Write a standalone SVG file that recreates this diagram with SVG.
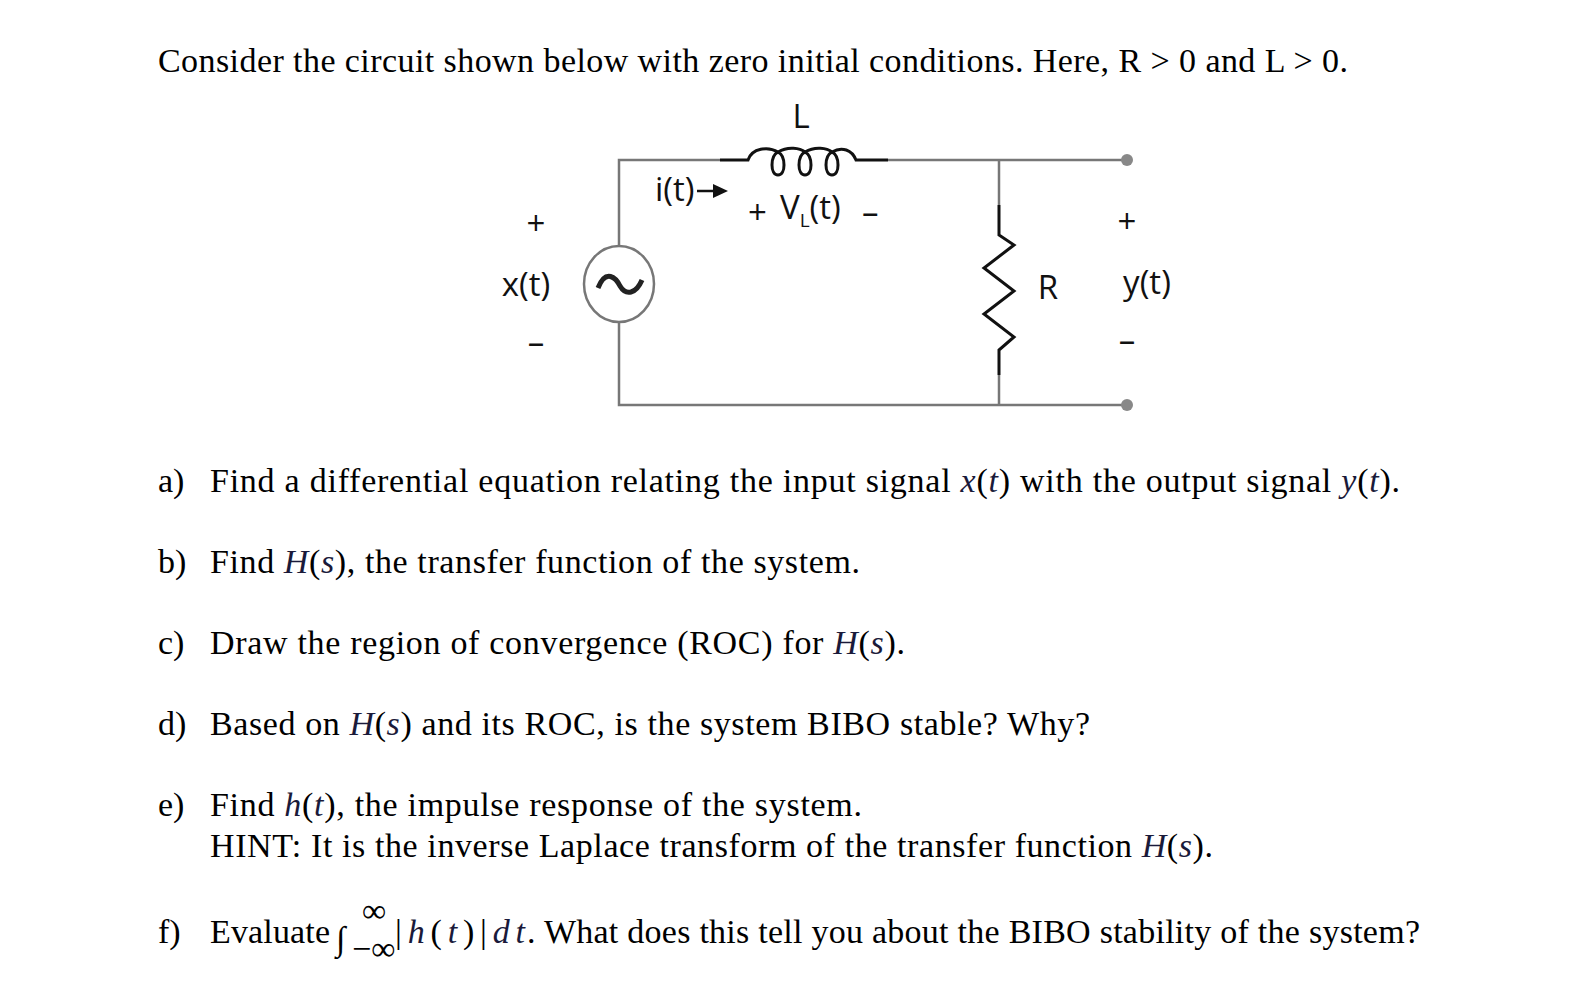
<svg xmlns="http://www.w3.org/2000/svg" width="1572" height="1008" viewBox="0 0 1572 1008">
<style>
.t{font-family:"Liberation Serif",serif;font-size:34px;fill:#000}
.m{font-style:italic;fill:#1a1a3a}
.c{font-family:"Open Sans","Liberation Sans",sans-serif;font-size:33px;fill:#111}
.w{stroke:#777;stroke-width:2.5;fill:none}
.k{stroke:#111;stroke-width:3;fill:none}
</style>
<rect width="1572" height="1008" fill="#fff"/>
<g id="texts">
<text class="t" x="158" y="72" textLength="1190" lengthAdjust="spacing">Consider the circuit shown below with zero initial conditions. Here, R &gt; 0 and L &gt; 0.</text>
<text class="t" x="158" y="492">a)</text><text class="t" x="210" y="492" textLength="1190" lengthAdjust="spacing">Find a differential equation relating the input signal <tspan class="m">x</tspan>(<tspan class="m">t</tspan>) with the output signal <tspan class="m">y</tspan>(<tspan class="m">t</tspan>).</text>
<text class="t" x="158" y="573">b)</text><text class="t" x="210" y="573" textLength="650" lengthAdjust="spacing">Find <tspan class="m">H</tspan>(<tspan class="m">s</tspan>), the transfer function of the system.</text>
<text class="t" x="158" y="654">c)</text><text class="t" x="210" y="654" textLength="695" lengthAdjust="spacing">Draw the region of convergence (ROC) for <tspan class="m">H</tspan>(<tspan class="m">s</tspan>).</text>
<text class="t" x="158" y="735">d)</text><text class="t" x="210" y="735" textLength="880" lengthAdjust="spacing">Based on <tspan class="m">H</tspan>(<tspan class="m">s</tspan>) and its ROC, is the system BIBO stable? Why?</text>
<text class="t" x="158" y="816">e)</text><text class="t" x="210" y="816" textLength="652" lengthAdjust="spacing">Find <tspan class="m">h</tspan>(<tspan class="m">t</tspan>), the impulse response of the system.</text>
<text class="t" x="210" y="857" textLength="1003" lengthAdjust="spacing">HINT: It is the inverse Laplace transform of the transfer function <tspan class="m">H</tspan>(<tspan class="m">s</tspan>).</text>
<text class="t" x="158" y="943">f)</text><text class="t" x="210" y="943" textLength="120" lengthAdjust="spacing">Evaluate</text>
<text class="t" x="336" y="950" font-size="46" fill="#1a1a3a">∫</text>
<text class="t" x="362" y="922" font-size="20" fill="#1a1a3a">∞</text>
<text class="t" x="352" y="960" font-size="20" fill="#1a1a3a">−∞</text>
<text class="t" x="395" y="943" fill="#1a1a3a" textLength="130" lengthAdjust="spacing">|<tspan class="m">h</tspan>(<tspan class="m">t</tspan>)|<tspan class="m">dt</tspan></text>
<text class="t" x="527" y="943" textLength="893" lengthAdjust="spacing">. What does this tell you about the BIBO stability of the system?</text>
</g>
<g id="wires">
<path class="w" d="M619 246 V160 H720 M888 160 H1127 M999 160 V205 M999 375 V405 M619 322 V405 H1127"/>
<circle cx="1127" cy="160" r="6" fill="#888"/>
<circle cx="1127" cy="405" r="6" fill="#888"/>
</g>
<g id="source">
<ellipse cx="619" cy="284" rx="35" ry="38" fill="#fff" stroke="#777" stroke-width="2.5"/>
<path d="M598 288 C606 268 616 278 620 286 C626 296 636 294 642 280" stroke="#222" stroke-width="5" fill="none"/>
</g>
<g id="inductor">
<path class="k" d="M720 160 H748 C752 148 768 146 778 152 C770 156 770 175 778 175 C786 175 786 156 778 152 C788 146 800 148 805 152 C797 156 797 175 805 175 C813 175 813 156 805 152 C815 146 827 148 832 152 C824 156 824 175 832 175 C840 175 840 156 832 152 C842 146 852 150 856 160 H888"/>
</g>
<g id="resistor">
<path class="k" d="M999 205 V235 L1014 245 L984 268 L1014 291 L984 314 L1014 337 L999 350 V375"/>
</g>
<g id="labels">
<text class="c" x="801" y="128" text-anchor="middle">L</text>
<text class="c" x="655" y="201" font-size="28">i(t)</text>
<path d="M697 191 H718" stroke="#111" stroke-width="2.5"/><path d="M713 184 L728 191 L713 198 Z" fill="#111"/>
<text class="c" x="748" y="224" font-size="28">+</text>
<text class="c" x="780" y="219">V<tspan font-size="19" dy="8">L</tspan><tspan dy="-8">(t)</tspan></text>
<text class="c" x="862" y="224" font-size="28">–</text>
<text class="c" x="536" y="235" text-anchor="middle" font-size="28">+</text>
<text class="c" x="526" y="296" text-anchor="middle">x(t)</text>
<text class="c" x="536" y="354" text-anchor="middle" font-size="28">–</text>
<text class="c" x="1048" y="299" text-anchor="middle">R</text>
<text class="c" x="1127" y="233" text-anchor="middle" font-size="28">+</text>
<text class="c" x="1147" y="294" text-anchor="middle">y(t)</text>
<text class="c" x="1127" y="352" text-anchor="middle" font-size="28">–</text>
</g>
</svg>
